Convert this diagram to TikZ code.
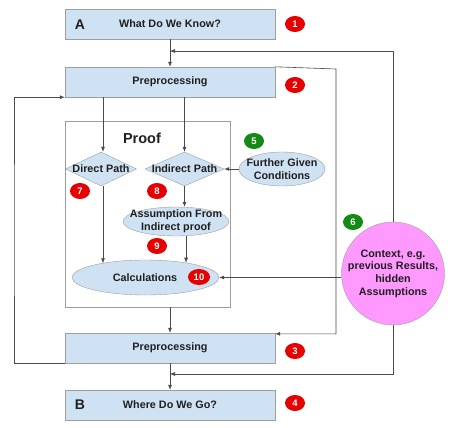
\documentclass[tikz,border=0pt]{standalone}
\usepackage{fontspec}
\setmainfont{Liberation Sans}
\usetikzlibrary{shapes.geometric,arrows.meta}
\definecolor{boxblue}{HTML}{CFE2F3}
\definecolor{boxline}{HTML}{9E9E9E}
\definecolor{ctxpink}{HTML}{FF99FF}
\definecolor{badgered}{HTML}{E60000}
\definecolor{badgegreen}{HTML}{138A13}
\definecolor{wire}{HTML}{4A4A4A}
\begin{document}
\begin{tikzpicture}[x=1pt,y=-1pt,
    every node/.style={font=\bfseries\fontsize{10.8}{12.6}\selectfont,text=black!88},
    stage/.style={draw=boxline,fill=boxblue,minimum width=210pt,minimum height=30pt,inner sep=0pt},
    bubble/.style={ellipse,draw=boxline,fill=boxblue,inner sep=0pt},
    badge/.style={ellipse,fill=badgered,text=white,inner sep=0pt,minimum width=20pt,
      minimum height=16pt,font=\bfseries\fontsize{9.5}{10}\selectfont},
    wires/.style={draw=wire,line width=0.6pt,-{Latex[length=5pt,width=4pt]}}]
      \useasboundingbox (0,0) rectangle (450,428);
      \draw
        (170,24) node[stage] (a){What Do We Know?}
        (80,25) node[font=\bfseries\fontsize{14}{14}\selectfont] (alabel){A}
        (170,82) node[stage] (p1){Preprocessing}
        (147.5,214) node[draw=boxline,minimum width=165pt,minimum height=186pt,inner sep=0pt] (proof){}
        (142,138) node[font=\bfseries\fontsize{14.5}{15}\selectfont] (prooftitle){Proof}
        (101,169) node[diamond,draw=boxline,fill=boxblue,inner sep=0pt,minimum width=71pt,
          minimum height=34pt,label=center:Direct Path] (direct){}
        (184.5,169) node[diamond,draw=boxline,fill=boxblue,inner sep=0pt,minimum width=79pt,
          minimum height=34pt,label=center:Indirect Path] (indirect){}
        (282,169) node[bubble,minimum width=86pt,minimum height=34pt,
          label={[align=center]center:Further Given\\Conditions}] (further){}
        (176,221.5) node[bubble,minimum width=106pt,minimum height=29pt,
          label={[align=center]center:Assumption From\\Indirect proof}] (assump){}
        (145.5,277.5) node[bubble,minimum width=147pt,minimum height=35pt] (calc){}
        (145,277.5) node (calctext){Calculations}
        (393,273.5) node[circle,draw=boxline,fill=ctxpink,inner sep=0pt,minimum size=103pt,
          align=center] (ctx){Context, e.g.\\previous Results,\\hidden\\Assumptions}
        (170,348) node[stage] (p2){Preprocessing}
        (170,405) node[stage] (b){Where Do We Go?}
        (80,405) node[font=\bfseries\fontsize{14}{14}\selectfont] (blabel){B};
      \draw
        (295,24) node[badge] (n1){1}
        (295,85) node[badge] (n2){2}
        (295,351) node[badge] (n3){3}
        (295,403) node[badge] (n4){4}
        (254,141) node[badge,fill=badgegreen] (n5){5}
        (353,222) node[badge,fill=badgegreen] (n6){6}
        (80,191) node[badge] (n7){7}
        (157,191) node[badge] (n8){8}
        (157,246) node[badge] (n9){9}
        (199,277) node[badge,minimum width=22pt] (n10){10};
      \coordinate (topjoin) at (170,51);
      \coordinate (botjoin) at (170,374);
      \coordinate (rightrail) at (336,69);
      \coordinate (leftrail) at (14,230);
      \begin{scope}[wires]
        \draw (a) to (p1);
        \draw (ctx.north) |- (topjoin);
        \draw (p1.north east) -- (rightrail) |- ([yshift=-1pt]p2.north east);
        \draw (p2.south west) -| (leftrail) |- (p1.south west);
        \draw ([xshift=2pt]direct.north |- p1.south) to ([xshift=2pt]direct.north);
        \draw (indirect.north |- p1.south) to (indirect.north);
        \draw (further.west) to (indirect.east);
        \draw (indirect.south) to (indirect.south |- assump.north);
        \draw (calc.20 |- assump.south) to (calc.20);
        \draw ([xshift=2pt]direct.south) to ([xshift=2pt]direct.south |- calc.162);
        \draw (calc.east -| ctx.west) to (calc.east);
        \draw (proof.south -| p2.north) to (p2.north);
        \draw (p2) to (b);
        \draw (ctx.south) |- (botjoin);
      \end{scope}
    \end{tikzpicture}
\end{document}
